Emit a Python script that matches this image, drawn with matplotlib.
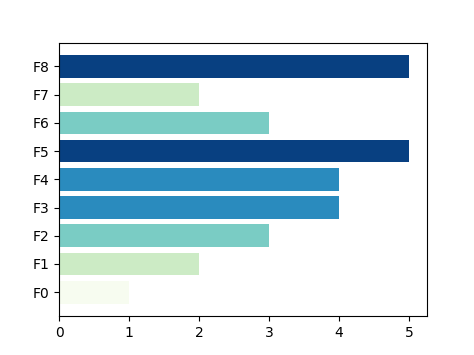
import matplotlib
matplotlib.use("Agg")
import matplotlib.pyplot as plt
import numpy as np

categories = ["F0", "F1", "F2", "F3", "F4", "F5", "F6", "F7", "F8"]
values = [1, 2, 3, 4, 4, 5, 3, 2, 5]

cmap = plt.get_cmap("GnBu")
vmin, vmax = min(values), max(values)
colors = [cmap((v - vmin) / (vmax - vmin)) for v in values]

fig, ax = plt.subplots(figsize=(4.74, 3.55), dpi=100)
ax.barh(categories, values, color=colors)
fig.savefig("out.png", dpi=100)
